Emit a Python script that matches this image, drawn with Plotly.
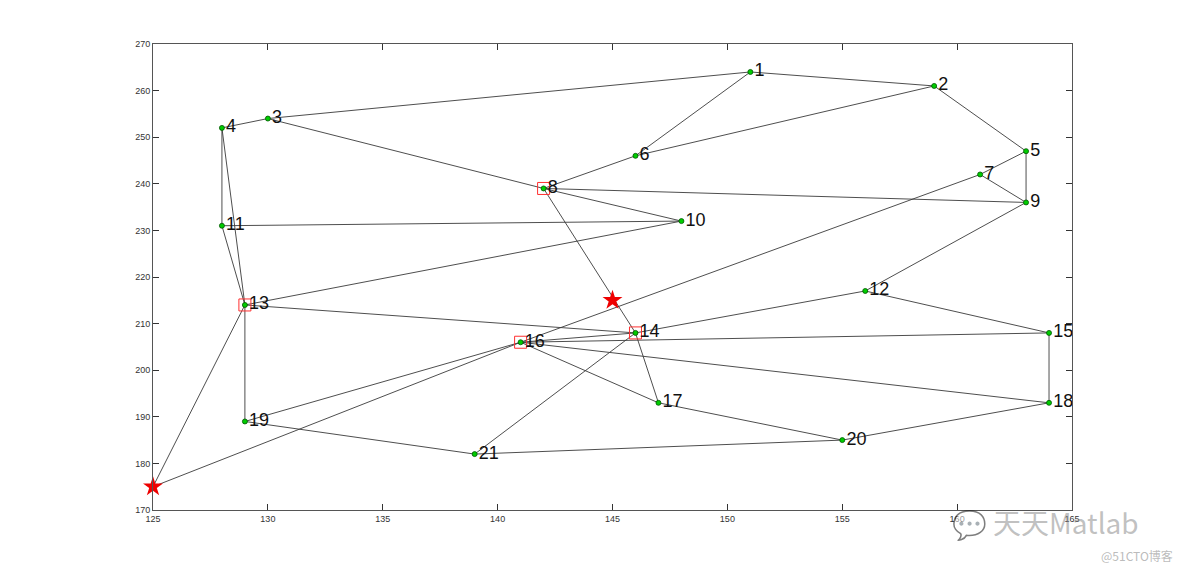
import plotly.graph_objects as go

# Node coordinates
node_ids = list(range(1, 22))
node_x = [151, 159, 130, 128, 163, 146, 161, 142, 163, 148, 128, 156, 129, 146, 164, 141, 147, 164, 129, 155, 139]
node_y = [264, 261, 254, 252, 247, 246, 242, 239, 236, 232, 231, 217, 214, 208, 208, 206, 193, 193, 189, 185, 182]

# Special points (stars)
star_x = [125, 145]
star_y = [175, 215]

# Highlighted nodes (red squares)
square_nodes = [8, 13, 14, 16]

# Edges: pairs of node ids; "S" = first star at (125,175)
edges = [
    (1, 3), (1, 2), (1, 6), (2, 6), (2, 5), (5, 7), (5, 9), (7, 9), (7, 16),
    (6, 8), (3, 8), (3, 4), (4, 11), (4, 13), (11, 13), (11, 10), (8, 10),
    (8, 9), (8, 14), (13, 10), (13, 14), (13, 19), (13, "S"), (14, 12),
    (14, 16), (14, 17), (14, 21), (12, 9), (12, 15), (16, 15), (16, 18),
    (16, 17), (16, 19), (16, "S"), (15, 18), (17, 20), (18, 20), (19, 21),
    (21, 20),
]

x_ticks = [125, 130, 135, 140, 145, 150, 155, 160, 165]
y_ticks = [170, 180, 190, 200, 210, 220, 230, 240, 250, 260, 270]


def pos(n):
    if n == "S":
        return star_x[0], star_y[0]
    return node_x[n - 1], node_y[n - 1]


ex, ey = [], []
for a, b in edges:
    xa, ya = pos(a)
    xb, yb = pos(b)
    ex += [xa, xb, None]
    ey += [ya, yb, None]

fig = go.Figure()
fig.add_trace(go.Scatter(x=ex, y=ey, mode="lines",
                         line=dict(color="#3a3a3a", width=0.9),
                         hoverinfo="skip", showlegend=False))

fig.add_trace(go.Scatter(
    x=[node_x[n - 1] for n in square_nodes],
    y=[node_y[n - 1] for n in square_nodes],
    mode="markers",
    marker=dict(symbol="square-open", size=12, color="#ff3030", line=dict(width=1)),
    showlegend=False))

fig.add_trace(go.Scatter(
    x=node_x, y=node_y, mode="markers+text",
    text=[str(i) for i in node_ids], textposition="middle right",
    textfont=dict(family="Liberation Sans, Arial", size=18, color="#111111"),
    marker=dict(size=5, color="#00cc00", line=dict(color="#005500", width=0.8)),
    cliponaxis=False, showlegend=False))

fig.add_trace(go.Scatter(
    x=star_x, y=star_y, mode="markers",
    marker=dict(symbol="star", size=15, color="#ee0000", line=dict(width=0)),
    cliponaxis=False, showlegend=False))

axis_common = dict(showgrid=False, zeroline=False, showline=True, linecolor="#555555",
                   linewidth=1, mirror="ticks", ticks="inside", ticklen=6,
                   tickcolor="#333333",
                   tickfont=dict(family="Liberation Sans, Arial", size=9, color="#333333"))

fig.update_xaxes(range=[125, 165], tickvals=x_ticks, **axis_common)
fig.update_yaxes(range=[170, 270], tickvals=y_ticks, **axis_common)

# Watermark
fig.add_annotation(xref="paper", yref="paper", x=0.912, y=-0.026, xanchor="left", yanchor="middle",
                   text="天天Matlab", showarrow=False,
                   font=dict(family="Noto Sans CJK SC", size=28, color="rgba(140,140,140,0.55)"))
fig.add_annotation(xref="paper", yref="paper", x=0.889, y=-0.03, xanchor="center", yanchor="middle",
                   text="💬", showarrow=False,
                   font=dict(size=28, color="rgba(150,150,150,0.5)"))
fig.add_annotation(xref="paper", yref="paper", x=1.112, y=-0.097, xanchor="right", yanchor="middle",
                   text="@51CTO博客", showarrow=False,
                   font=dict(family="Noto Sans CJK SC", size=12, color="rgba(170,170,170,0.8)"))

fig.update_layout(width=1168, height=558, margin=dict(l=145, r=104, t=36, b=56),
                  paper_bgcolor="white", plot_bgcolor="white")

fig.write_html("out.html")
